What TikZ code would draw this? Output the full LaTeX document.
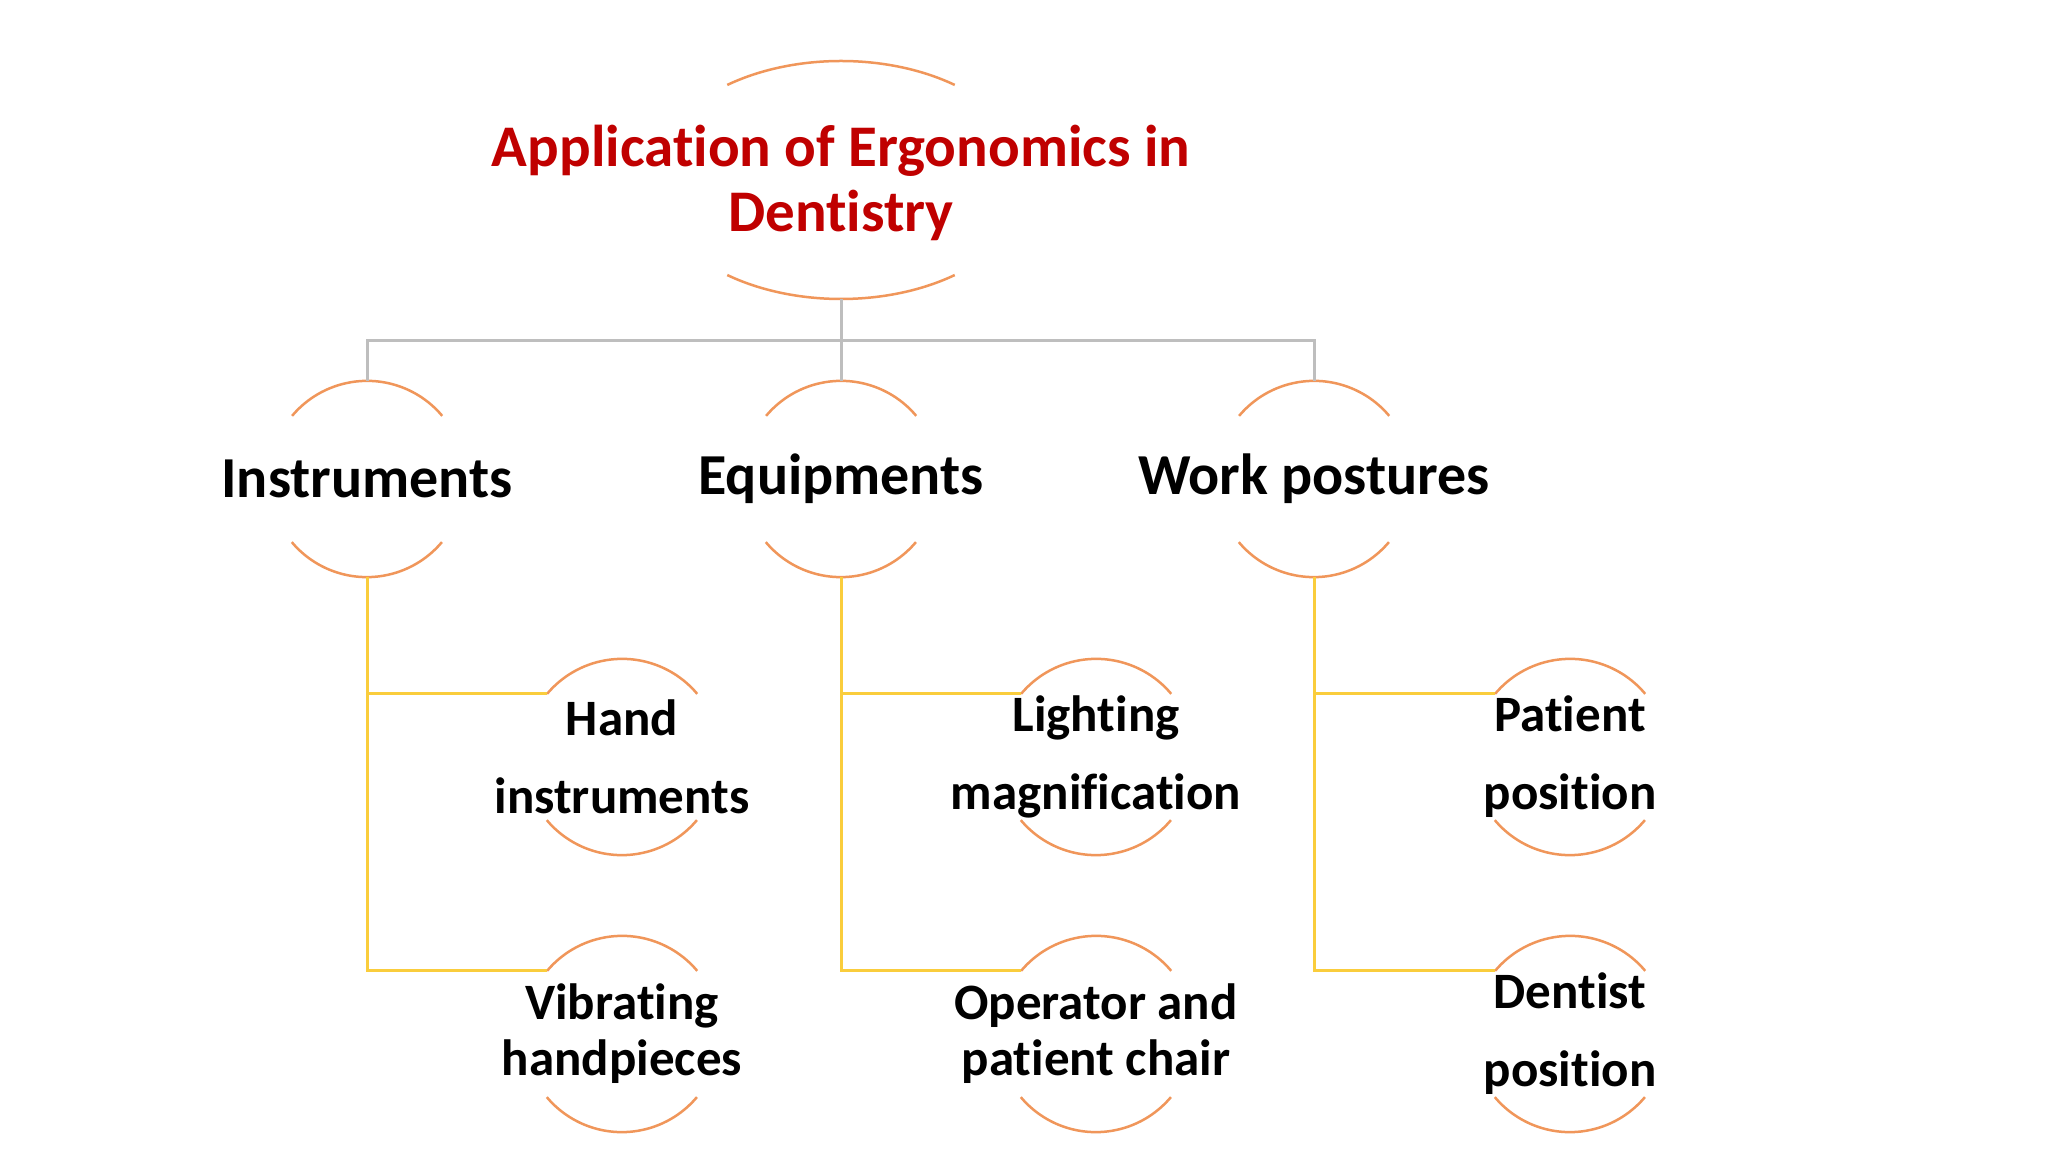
\documentclass[tikz,border=0pt]{standalone}
\usepackage{fontspec}
\setmainfont{Carlito}[RawFeature={-liga;-clig;-calt;-dlig}]
\usetikzlibrary{calc}
\definecolor{arcc}{RGB}{240,150,90}
\definecolor{yel}{RGB}{250,205,60}
\definecolor{gry}{RGB}{190,190,190}
\definecolor{ttl}{RGB}{192,0,0}
\tikzset{
  circnode/.style={circle,minimum size=196pt,inner sep=0pt},
  lvtwo/.style={font=\bfseries\fontsize{58}{70}\selectfont,align=center},
  lvthree/.style={font=\bfseries\fontsize{51}{78}\selectfont,align=center},
  lvthreetight/.style={font=\bfseries\fontsize{51}{56}\selectfont,align=center},
  arcline/.style={draw=arcc,line width=2.5pt},
  grayline/.style={draw=gry,line width=3pt},
  yelline/.style={draw=yel,line width=3pt},
}
\newcommand{\ringarcs}[1]{%
  \draw[arcline] (#1.40) arc[start angle=40,end angle=140,radius=98pt];
  \draw[arcline] (#1.220) arc[start angle=220,end angle=320,radius=98pt];}
\begin{document}
\begin{tikzpicture}[x=1pt,y=1pt]
\useasboundingbox[fill=white] (0,0) rectangle (2048,1152);
% title
\node[font=\bfseries\fontsize{59}{65}\selectfont,text=ttl,align=center] (title) at (841,969) {Application of Ergonomics in\\Dentistry};
\coordinate (tc) at (841,972);
\draw[arcline] ($(tc)+(53:189pt and 119pt)$) arc[start angle=53,end angle=127,x radius=189pt,y radius=119pt];
\draw[arcline] ($(tc)+(233:189pt and 119pt)$) arc[start angle=233,end angle=307,x radius=189pt,y radius=119pt];
\coordinate (tbot) at (841,853);
% level 2
\node[circnode] (c1) at (367,673) {};
\node[circnode] (c2) at (841,673) {};
\node[circnode] (c3) at (1314,673) {};
\node[lvtwo] (l1) at (c1) {Instruments};
\node[lvtwo] (l2) at (c2) {Equipments};
\node[lvtwo] (l3) at (c3) {Work postures};
\ringarcs{c1}\ringarcs{c2}\ringarcs{c3}
% level 3
\node[circnode] (a1) at (622,395) {};
\node[circnode] (b1) at (622,118) {};
\node[circnode] (a2) at (1096,395) {};
\node[circnode] (b2) at (1096,118) {};
\node[circnode] (a3) at (1570,395) {};
\node[circnode] (b3) at (1570,118) {};
\ringarcs{a1}\ringarcs{b1}\ringarcs{a2}\ringarcs{b2}\ringarcs{a3}\ringarcs{b3}
\node[lvthree] (ta1) at (a1) {Hand\\instruments};
\node[lvthreetight] (tb1) at (b1) {Vibrating\\handpieces};
\node[lvthree] (ta2) at (a2) {Lighting\\magnification};
\node[lvthreetight] (tb2) at (b2) {Operator and\\patient chair};
\node[lvthree] (ta3) at (a3) {Patient\\position};
\node[lvthree] (tb3) at (b3) {Dentist\\position};
% gray connectors
\draw[grayline] (tbot) -- ++(0,-42) coordinate (bar);
\draw[grayline] (c1.90) |- (bar) -| (c3.90);
\draw[grayline] (bar) -- (c2.90);
% yellow connectors
\foreach \p/\a/\b in {c1/a1/b1,c2/a2/b2,c3/a3/b3}{
  \draw[yelline] (\p.270) |- (\b.140);
  \draw[yelline] (\p.270 |- \a.140) -- (\a.140);
}
\end{tikzpicture}
\end{document}
